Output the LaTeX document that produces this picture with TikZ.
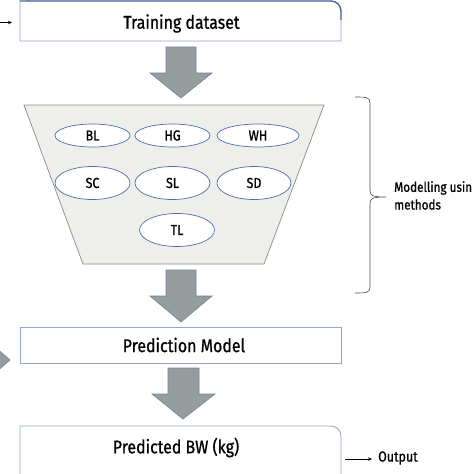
\documentclass[tikz,border=0pt]{standalone}
\usepackage{fontspec}
\setmainfont[FakeStretch=0.86,FakeBold=0.9]{Fira Sans}
\usetikzlibrary{calc,shapes.geometric,arrows.meta}
\definecolor{boxblue}{HTML}{8FA6CF}
\definecolor{boxtop}{HTML}{4F6C9E}
\definecolor{arrowfill}{HTML}{979D9D}
\definecolor{arrowline}{HTML}{6A82A8}
\definecolor{trapfill}{HTML}{EEEEEA}
\definecolor{trapline}{HTML}{8A8A8A}
\definecolor{ellblue}{HTML}{4A6FB0}
\tikzset{
  boxline/.style={draw=boxblue, line width=0.9pt, fill=white},
  bigtext/.style={font=\fontsize{18.5}{20}\selectfont, inner sep=0pt},
  method/.style={ellipse, draw=ellblue, line width=0.7pt, fill=white, inner sep=0pt, font=\fontsize{14.5}{16}\selectfont},
  blockarrow/.style={fill=arrowfill, draw=arrowline, line width=0.6pt},
  smalltext/.style={font=\fontsize{14.5}{16}\selectfont, inner sep=0pt, anchor=west},
  sidetext/.style={font=\fontsize{13.6}{16}\selectfont, inner sep=0pt, anchor=west},
  thinarrow/.style={draw=black, line width=0.7pt, -{Stealth[length=4pt,width=3.5pt]}}
}
\begin{document}
\begin{tikzpicture}[x=1pt,y=-1pt]
\useasboundingbox (0,0) rectangle (474,474);
% top box (training dataset)
\draw[boxline] (20,-5) -- (20,41) -- (341,41) [rounded corners=10pt] -- (341,1) -- (20,1) -- (20,-5);
\draw[draw=boxtop, line width=1.4pt, rounded corners=10pt] (20,1) -- (341,1) -- (341,20);
\node[bigtext] (td) at (181.5,23.5) {Training dataset};
\coordinate (inA) at (0,22.5);
\coordinate (inB) at (12,22.5);
\draw[thinarrow] (inA) -- (inB);
% arrow 1
\draw[blockarrow] (166,47) -- (196,47) -- (196,73) -- (212,73) -- (181,98) -- (150,73) -- (166,73) -- cycle;
% trapezoid
\draw[fill=trapfill, draw=trapline, line width=0.7pt] (24,105) -- (324,105) -- (264,264) -- (83,264) -- cycle;
% methods
\node[method, minimum width=75pt, minimum height=23pt] (bl) at (92.5,135.5) {BL};
\node[method, minimum width=75pt, minimum height=23pt] (hg) at (172.5,135.5) {HG};
\node[method, minimum width=82pt, minimum height=23pt] (wh) at (258,135.5) {WH};
\node[method, minimum width=75pt, minimum height=33pt] (sc) at (92.5,183) {SC};
\node[method, minimum width=75pt, minimum height=33pt] (sl) at (172.5,183) {SL};
\node[method, minimum width=74pt, minimum height=33pt] (sd) at (254,183) {SD};
\node[method, minimum width=75pt, minimum height=33pt] (tl) at (177,230) {TL};
% brace
\draw[draw=black!70, line width=0.6pt] (355,97) .. controls (366,97) and (370,97) .. (370,103) -- (370,190) .. controls (370,196) and (373,197) .. (386,197) .. controls (373,197) and (370,198) .. (370,204) -- (370,287) .. controls (370,293) and (366,293) .. (355,293);
\node[sidetext] (mod) at (394,188) {Modelling usin};
\node[sidetext] (meth) at (394,204.5) {methods};
% arrow 2
\draw[blockarrow] (166,270) -- (196,270) -- (196,296) -- (212,296) -- (181,322) -- (150,296) -- (166,296) -- cycle;
% prediction model
\node[boxline, minimum width=321pt, minimum height=36pt, inner sep=0pt] (pmbox) at (180.5,345) {};
\node[bigtext] (pm) at (184,345) {Prediction Model};
% left arrow head stub
\draw[blockarrow] (-6,346) -- (10,360) -- (-6,374) -- cycle;
% arrow 3
\draw[blockarrow] (168,368) -- (199,368) -- (199,394) -- (215,394) -- (183,419) -- (152,394) -- (168,394) -- cycle;
% predicted box
\draw[boxline] (20,480) -- (20,426) [rounded corners=10pt] -- (341,426) -- (341,480);
\node[bigtext] (pbw) at (176,447.5) {Predicted BW (kg)};
\coordinate (outA) at (345,459);
\coordinate (outB) at (372,459);
\node[smalltext] (out) at (378,458) {Output};
\draw[thinarrow] (outA) -- (outB);
\end{tikzpicture}
\end{document}
